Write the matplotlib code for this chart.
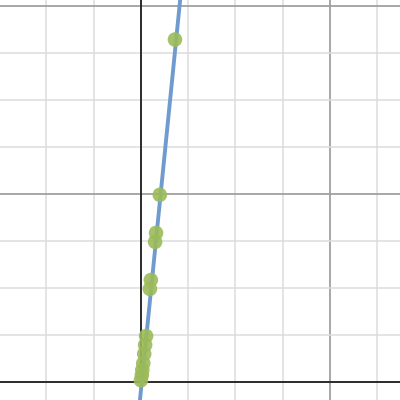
import numpy as np
import matplotlib
matplotlib.use("Agg")
import matplotlib.pyplot as plt

x_vals = [0.72, 0.40, 0.32, 0.30, 0.21, 0.19, 0.11, 0.09, 0.07, 0.05, 0.03, 0.02, 0.0]
y_vals = [7.28, 3.98, 3.17, 2.98, 2.17, 1.98, 0.98, 0.79, 0.60, 0.40, 0.26, 0.15, 0.04]
line_slope = 10.0
line_intercept = -0.18

fig = plt.figure(figsize=(4, 4), dpi=100)
ax = fig.add_axes([0, 0, 1, 1])
ax.set_xlim(-2.98, 5.48)
ax.set_ylim(-0.38, 8.12)

for v in np.arange(-3, 6):
    major = (v % 4 == 0)
    ax.axvline(v, color="#a0a0a0" if major else "#dcdcdc", lw=1.3 if major else 1.1, zorder=0)
for v in np.arange(0, 9):
    major = (v % 4 == 0)
    ax.axhline(v, color="#a0a0a0" if major else "#dcdcdc", lw=1.3 if major else 1.1, zorder=0)
ax.axvline(0, color="#222222", lw=1.3, zorder=1)
ax.axhline(0, color="#222222", lw=1.3, zorder=1)

xs = np.array([-1, 2])
ax.plot(xs, line_slope * xs + line_intercept, color="#6f9bcf", lw=2.8, zorder=2)
ax.scatter(x_vals, y_vals, s=110, color="#9bbb59", alpha=0.9, edgecolors="none", zorder=3)

ax.set_xticks([]); ax.set_yticks([])
for s in ax.spines.values():
    s.set_visible(False)
fig.savefig("out.png", dpi=100)
